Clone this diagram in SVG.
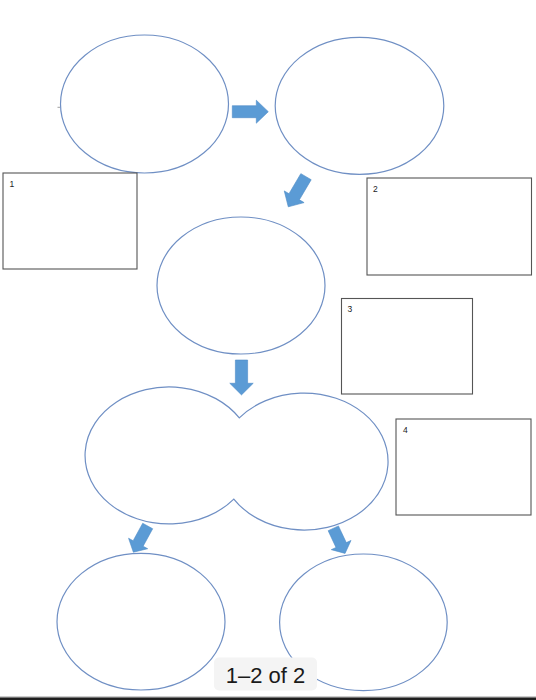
<svg xmlns="http://www.w3.org/2000/svg" width="536" height="700" viewBox="0 0 536 700">
  <style>
    .oval { fill: #ffffff; stroke: #6f8fc4; stroke-width: 1.2; }
    .box { fill: #ffffff; stroke: #555555; stroke-width: 1.1; }
    .num { font-family: "Liberation Sans", Arial, sans-serif; font-size: 8.5px; fill: #1a1a1a; }
    .arr { fill: #5b9bd5; stroke: #4f8cc7; stroke-width: 0.6; }
    .pager { font-family: "Liberation Sans", Arial, sans-serif; font-size: 22px; fill: #1a1a1a; }
  </style>
  <defs>
    <path id="arrowShape" d="M0,-6 H24 V-11.5 L36,0 L24,11.5 V6 H0 Z"/>
  </defs>
  <rect width="536" height="700" fill="#ffffff"/>

  <g id="oval1">
    <ellipse class="oval" cx="144.5" cy="104" rx="84" ry="69"/>
    <line x1="57.5" y1="107.3" x2="60" y2="107.3" stroke="#888" stroke-width="0.8"/>
  </g>
  <g id="oval2"><ellipse class="oval" cx="359.5" cy="105.8" rx="84.3" ry="68.5"/></g>
  <g id="box1">
    <rect class="box" x="3" y="173" width="134" height="96"/>
    <text class="num" x="9.5" y="187">1</text>
  </g>
  <g id="box2">
    <rect class="box" x="367" y="178" width="164.5" height="97"/>
    <text class="num" x="373" y="192">2</text>
  </g>
  <g id="oval3"><ellipse class="oval" cx="241" cy="285.5" rx="84" ry="68.5"/></g>
  <g id="box3">
    <rect class="box" x="341.5" y="298.5" width="131" height="95.5"/>
    <text class="num" x="347.5" y="312">3</text>
  </g>
  <g id="doubleOval">
    <path class="oval" d="M239.3,417.9 A84,68.5 0 1 0 233.8,499.1 A84,68.5 0 1 0 239.3,417.9 Z"/>
  </g>
  <g id="box4">
    <rect class="box" x="396" y="419" width="135" height="96"/>
    <text class="num" x="403" y="433">4</text>
  </g>
  <g id="oval4"><ellipse class="oval" cx="141" cy="621.7" rx="84" ry="68.3"/></g>
  <g id="oval5"><ellipse class="oval" cx="363.4" cy="622.3" rx="83.8" ry="68.3"/></g>

  <g id="connectors">
    <use href="#arrowShape" class="arr" transform="translate(232.3,111.7)"/>
    <use href="#arrowShape" class="arr" transform="translate(306,176.7) rotate(120.5) scale(0.97,1)"/>
    <use href="#arrowShape" class="arr" transform="translate(241.5,360) rotate(90) scale(0.97,1.02)"/>
    <use href="#arrowShape" class="arr" transform="translate(147.7,526) rotate(118.7) scale(0.83,0.95)"/>
    <use href="#arrowShape" class="arr" transform="translate(333.3,528.3) rotate(64.9) scale(0.77,0.95)"/>
  </g>

  <g id="pager">
    <rect x="214" y="657.5" width="103" height="33" rx="5" fill="#f4f4f4"/>
    <text class="pager" x="265.5" y="682.5" text-anchor="middle">1–2 of 2</text>
  </g>
  <rect x="0" y="696.5" width="536" height="1" fill="#9a9a9a"/>
  <rect x="0" y="697.5" width="536" height="2.5" fill="#1e1e1e"/>
</svg>
